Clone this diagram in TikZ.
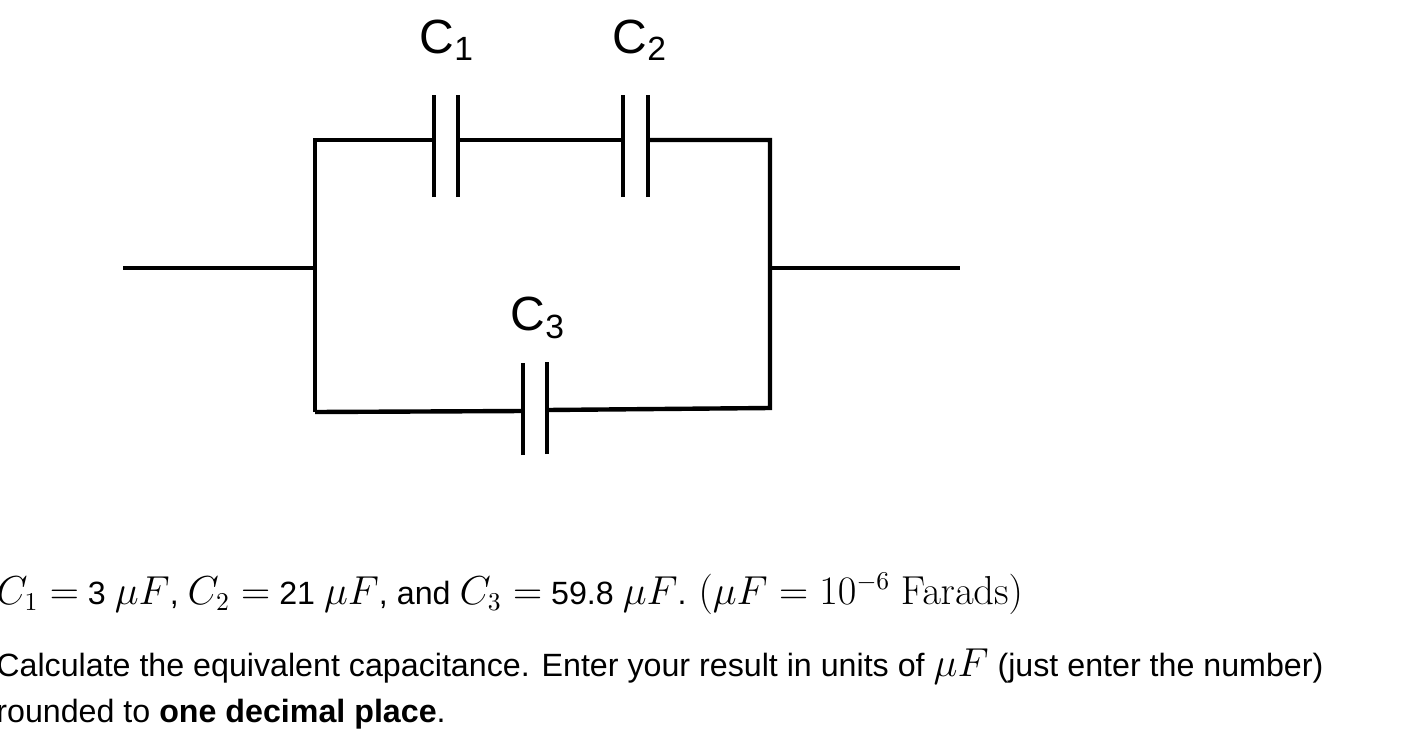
\documentclass[tikz,border=0pt]{standalone}
\usepackage[no-math]{fontspec}
\setmainfont{Liberation Sans}
\newfontfamily\lab{Liberation Sans}
\newcommand{\mm}[1]{\scalebox{1.17}{$#1$}}
\begin{document}
\begin{tikzpicture}[x=0.5pt,y=-0.5pt,
  w/.style={line width=2.2pt},
  p/.style={line width=2.4pt},
  lbl/.style={font=\fontsize{24}{26}\selectfont\lab},
  txt/.style={anchor=base west,inner sep=0pt,font=\fontsize{16.1}{19}\selectfont}]
\useasboundingbox (0,0) rectangle (1408,750);
\coordinate (L) at (123,268); \coordinate (LJ) at (315,268);
\coordinate (R) at (960,268); \coordinate (RJ) at (770,268);
\coordinate (TL) at (315,140); \coordinate (TR) at (770,140);
\coordinate (BL) at (315,412); \coordinate (BR) at (770,408);
\coordinate (c1a) at (434,140); \coordinate (c1b) at (458,140);
\coordinate (c2a) at (623,140); \coordinate (c2b) at (648,140);
\coordinate (c3a) at (523,411); \coordinate (c3b) at (547,410);
\draw[w] (L)--(LJ); \draw[w] (RJ)--(R);
\draw[w] (BL)--(TL)--(c1a); \draw[w] (c1b)--(c2a); \draw[w] (c2b)--(TR)--(BR)--(c3b);
\draw[w] (c3a)--(BL);
\foreach \c in {c1a,c1b,c2a,c2b}{\draw[p] ([yshift=-28.5]\c)--([yshift=22.5]\c);}
\foreach \c in {c3a,c3b}{\draw[p] ([yshift=-22]\c)--([yshift=24]\c);}
\node[lbl] (l1) at (447,40) {C\textsubscript{1}};
\node[lbl] (l2) at (640,40) {C\textsubscript{2}};
\node[lbl] (l3) at (538,318) {C\textsubscript{3}};
\node[txt] (t1) at (-4,604) {\mm{C_1=}\ 3 \mm{\mu F}, \mm{C_2=}\ 21 \mm{\mu F}, and \mm{C_3=}\ 59.8 \mm{\mu F}. \mm{(\mu F=10^{-6}\ \mathrm{Farads})}};
\node[txt] (t2) at (-4,676) {Calculate the equivalent capacitance. Enter your result in units of \mm{\mu F} (just enter the number)};
\node[txt] (t3) at (-4,722) {rounded to \textbf{one decimal place}.};
\end{tikzpicture}
\end{document}
